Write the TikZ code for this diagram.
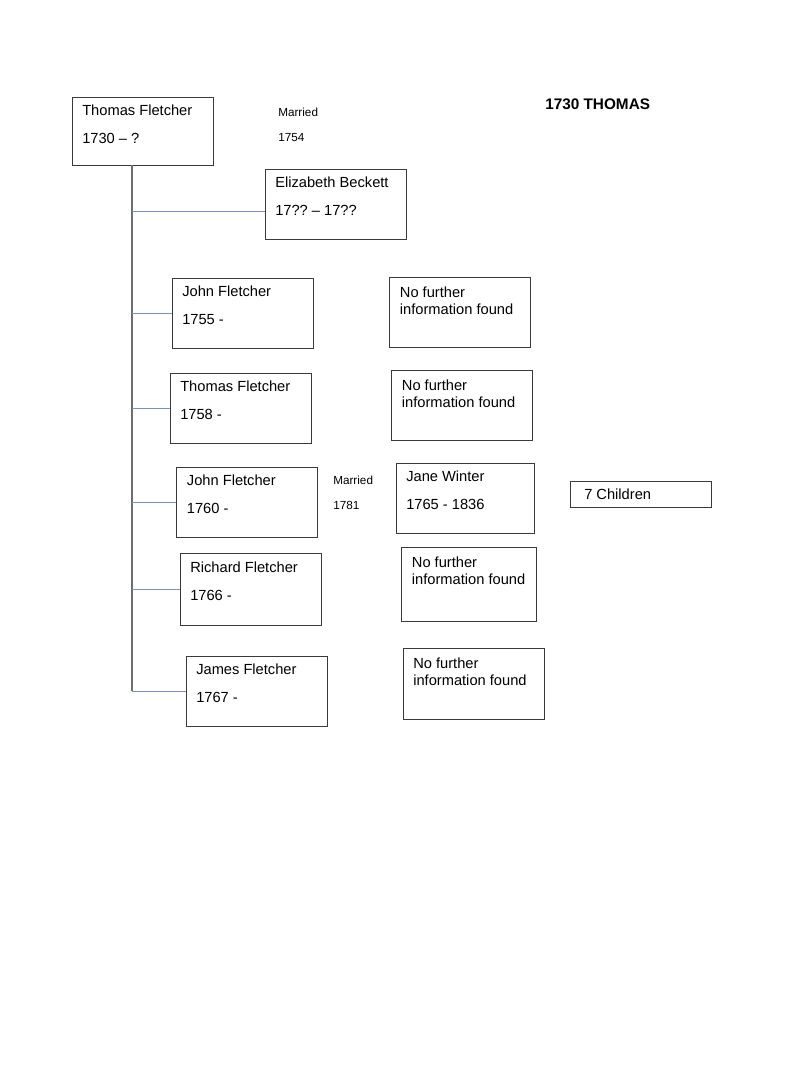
\documentclass[tikz,border=0pt]{standalone}
\usepackage{fontspec}
\setmainfont{Liberation Sans}
\usetikzlibrary{positioning}
\definecolor{ink}{HTML}{3A3A3A}
\definecolor{lnk}{HTML}{7D90B5}
\definecolor{stem}{HTML}{6E6E6E}
\tikzset{
  pbox/.style={draw=ink,line width=0.7pt,minimum width=106pt,minimum height=52.5pt,anchor=north west,inner sep=0pt},
  ptxt/.style={anchor=north west,inner sep=0pt,align=left,font=\fontsize{11}{21}\selectfont},
  ntxt/.style={ptxt,font=\fontsize{11}{12.8}\selectfont},
  small/.style={anchor=north west,inner sep=0pt,align=left,font=\fontsize{8.8}{18.8}\selectfont},
  branch/.style={draw=lnk,line width=0.7pt},
  trunkline/.style={draw=stem,line width=0.8pt},
}
\frenchspacing
\begin{document}
\begin{tikzpicture}[x=0.75pt,y=-0.75pt]
\useasboundingbox[fill=white] (0,0) rectangle (788,1068);
% parents
\node[pbox,minimum height=51pt] (tf) at (72,97) {};
\node[ptxt,below right=6pt and 7.5pt of tf.north west] (tft) {Thomas Fletcher\\1730 -- ?};
\node[small] (m1) at (278,108) {Married\\1754};
\node[anchor=north west,inner sep=0pt,font=\fontsize{11.5}{14}\selectfont\bfseries] (title) at (545,99) {1730 THOMAS};
\node[pbox] (eb) at (265,169) {};
\node[ptxt,below right=6pt and 7.5pt of eb.north west] (ebt) {Elizabeth Beckett\\17?? -- 17??};
% children
\node[pbox] (jf) at (172,278) {};
\node[ptxt,below right=6pt and 7.5pt of jf.north west] (jft) {John Fletcher\\1755 -};
\node[pbox] (n1) at (389,277) {};
\node[ntxt,below right=7pt and 8pt of n1.north west] (n1t) {No further\\information found};
\node[pbox] (tf2) at (170,373) {};
\node[ptxt,below right=6pt and 7.5pt of tf2.north west] (tf2t) {Thomas Fletcher\\1758 -};
\node[pbox] (n2) at (391,370) {};
\node[ntxt,below right=7pt and 8pt of n2.north west] (n2t) {No further\\information found};
\node[pbox] (jf2) at (176,467) {};
\node[ptxt,below right=6pt and 8pt of jf2.north west] (jf2t) {John Fletcher\\1760 -};
\node[small] (m2) at (333,476) {Married\\1781};
\node[pbox,minimum width=103.5pt] (jw) at (396,463) {};
\node[ptxt,below right=6pt and 7.5pt of jw.north west] (jwt) {Jane Winter\\1765 - 1836};
\node[pbox,minimum height=19.5pt] (kids) at (570,481) {};
\node[ptxt,below right=6pt and 10.5pt of kids.north west] (kidst) {7 Children};
\node[pbox,minimum height=54pt] (rf) at (180,553) {};
\node[ptxt,below right=6.5pt and 7.5pt of rf.north west] (rft) {Richard Fletcher\\1766 -};
\node[pbox,minimum width=101pt,minimum height=55.5pt] (n3) at (401,547) {};
\node[ntxt,below right=7pt and 8pt of n3.north west] (n3t) {No further\\information found};
\node[pbox] (jaf) at (186,656) {};
\node[ptxt,below right=6pt and 7.5pt of jaf.north west] (jaft) {James Fletcher\\1767 -};
\node[pbox,minimum height=53pt] (n4) at (403,648) {};
\node[ntxt,below right=7.5pt and 7.5pt of n4.north west] (n4t) {No further\\information found};
% lines
\coordinate (trunk) at (132,165);
\coordinate (ebin) at ([yshift=-5pt]eb.west);
\draw[trunkline] (trunk) -- (trunk |- jaf.west);
\draw[branch] (trunk |- ebin) -- (ebin);
\foreach \k in {jf,tf2,jf2,rf,jaf} \draw[branch] (trunk |- \k.west) -- (\k.west);
\end{tikzpicture}
\end{document}
